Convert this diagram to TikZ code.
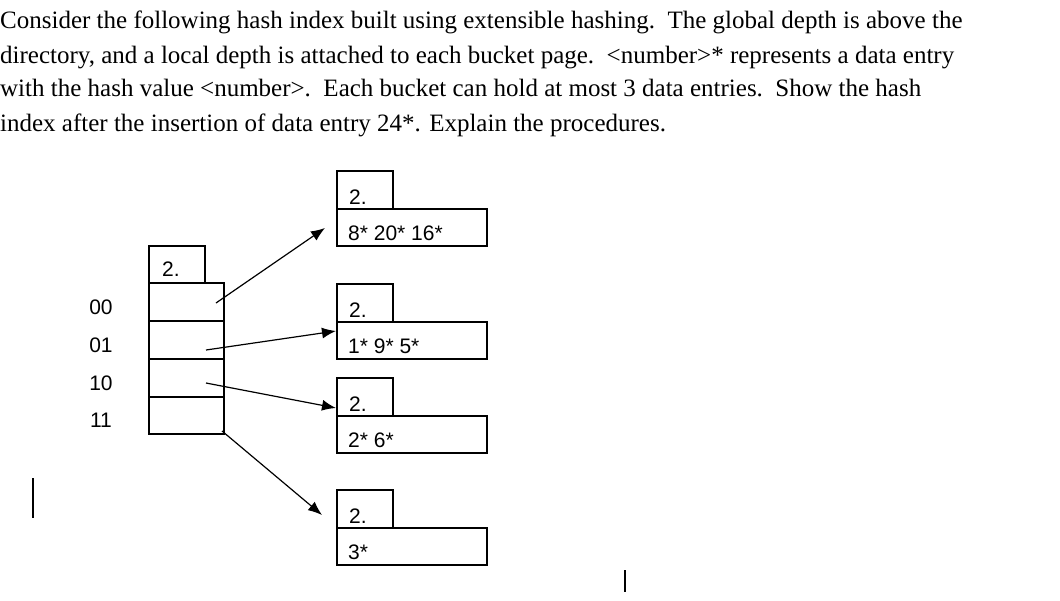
\documentclass[tikz,border=0pt]{standalone}
\usepackage{fontspec}
\usetikzlibrary{arrows.meta}
\setmainfont{Liberation Serif}
\newfontfamily\dsans{Liberation Sans}
\begin{document}
\begin{tikzpicture}[x=1pt,y=-1pt,
  txt/.style={anchor=base west,inner sep=0pt,font=\fontsize{25}{28}\selectfont},
  lab/.style={anchor=center,inner sep=0pt,font=\dsans\fontsize{21}{24}\selectfont},
  box/.style={draw,line width=1.2pt},
  arr/.style={line width=1.2pt,-{Latex[length=14pt,width=11pt]}}]
\useasboundingbox (0,0) rectangle (1060,600);
\node[txt] (l1) at (0,28) {Consider the following hash index built using extensible hashing.\ \ The global depth is above the};
\node[txt] (l2) at (0,63) {directory, and a local depth is attached to each bucket page.\ \ <number>* represents a data entry};
\node[txt] (l3) at (0,96) {with the hash value <number>.\ \ Each bucket can hold at most 3 data entries.\ \ Show the hash};
\node[txt] (l4) at (0,131) {index after the insertion of data entry 24*. Explain the procedures.};
% directory
\draw[box] (149,246) rectangle (205,283);
\node[lab] (gd) at (171,269) {2.};
\foreach \a/\b/\t/\n in {283/321/00/r0,321/359/01/r1,359/397/10/r2,397/434/11/r3}{
  \draw[box] (149,\a) rectangle (224,\b);
  \coordinate (\n) at (186,\a);
  \node[lab] at (101,{(\a+\b)/2+5}) {\t};
}
% buckets
\foreach \t/\n/\c in {171/b1/{8* 20* 16*},284/b2/{1* 9* 5*},378/b3/{2* 6*},490/b4/{3*}}{
  \draw[box] (337,\t) rectangle (393,\t+38);
  \draw[box] (337,\t+38) rectangle (487,\t+75);
  \node[lab] at (358,\t+26) {2.};
  \node[lab,anchor=west] (\n) at (348,\t+62) {\c};
}
\coordinate (s1) at (216,303); \coordinate (e1) at (325,228);
\coordinate (s2) at (206,350); \coordinate (e2) at (336,331);
\coordinate (s3) at (206,383); \coordinate (e3) at (336,408);
\coordinate (s4) at (222,431); \coordinate (e4) at (322,515);
\draw[arr] (s1) -- (e1);
\draw[arr] (s2) -- (e2);
\draw[arr] (s3) -- (e3);
\draw[arr] (s4) -- (e4);
\coordinate (v1) at (33,478); \coordinate (v2) at (33,518);
\draw[line width=1.2pt] (v1) -- (v2);
\coordinate (w1) at (625,570); \coordinate (w2) at (625,592);
\draw[line width=1.2pt] (w1) -- (w2);
\end{tikzpicture}
\end{document}
